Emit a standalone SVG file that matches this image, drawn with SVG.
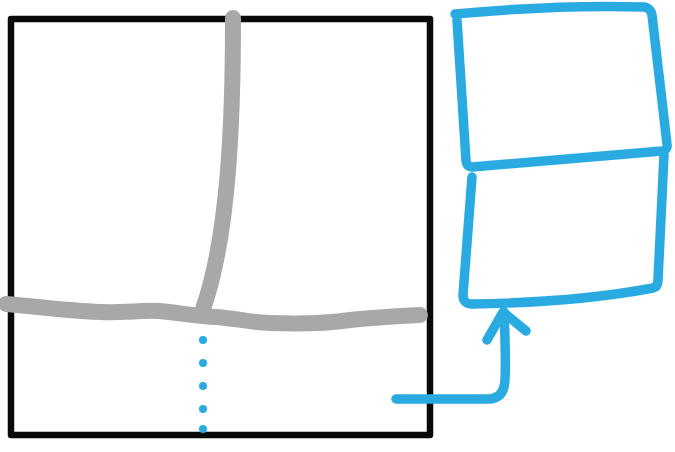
<svg xmlns="http://www.w3.org/2000/svg" width="675" height="452" viewBox="0 0 675 452">
<style>
.frame{fill:none;stroke:#0a0a0a;stroke-width:6.5;stroke-linejoin:round}
.gray{fill:none;stroke:#a7a8a7;stroke-width:16;stroke-linecap:round;stroke-linejoin:round}
.blue{fill:none;stroke:#29abe2;stroke-width:9.5;stroke-linecap:round;stroke-linejoin:round}
.dot{fill:#29abe2}
</style>
<rect width="675" height="452" fill="#fff"/>
<g id="frame">
<rect class="frame" x="11" y="19" width="419" height="416"/>
</g>
<g id="grid">
<path class="gray" d="M233,18 C233,120 229,235 203,309"/>
<path class="gray" d="M6,304 C40,307 70,311 100,312 C125,313 140,310 160,311 C180,313 195,316 215,317 C235,318 245,322 270,323 C300,324 330,323 350,320 C380,317 400,316 420,315"/>
</g>
<g id="dots">
<circle class="dot" cx="203" cy="340" r="4"/>
<circle class="dot" cx="203" cy="363" r="4"/>
<circle class="dot" cx="203" cy="386" r="4"/>
<circle class="dot" cx="203" cy="409" r="4"/>
<circle class="dot" cx="203" cy="429" r="4"/>
</g>
<g id="box-top">
<path class="blue" d="M455,14 C520,8 580,5 645,7 Q651,9 652,15 L667,144 Q668,150 662,151 L472,167 Q467,167 466,161 L457,20"/>
</g>
<g id="box-bottom">
<path class="blue" d="M472,177 L463,295 Q463,304 472,304 C540,303 600,298 653,288 Q658,287 658,280 L664,155"/>
</g>
<g id="connectors">
<path class="blue" d="M396,399 L488,399 Q504,399 505,380 C506,360 505,335 504,312"/>
<path class="blue" d="M487,340 L503,312 L526,331"/>
</g>
</svg>
